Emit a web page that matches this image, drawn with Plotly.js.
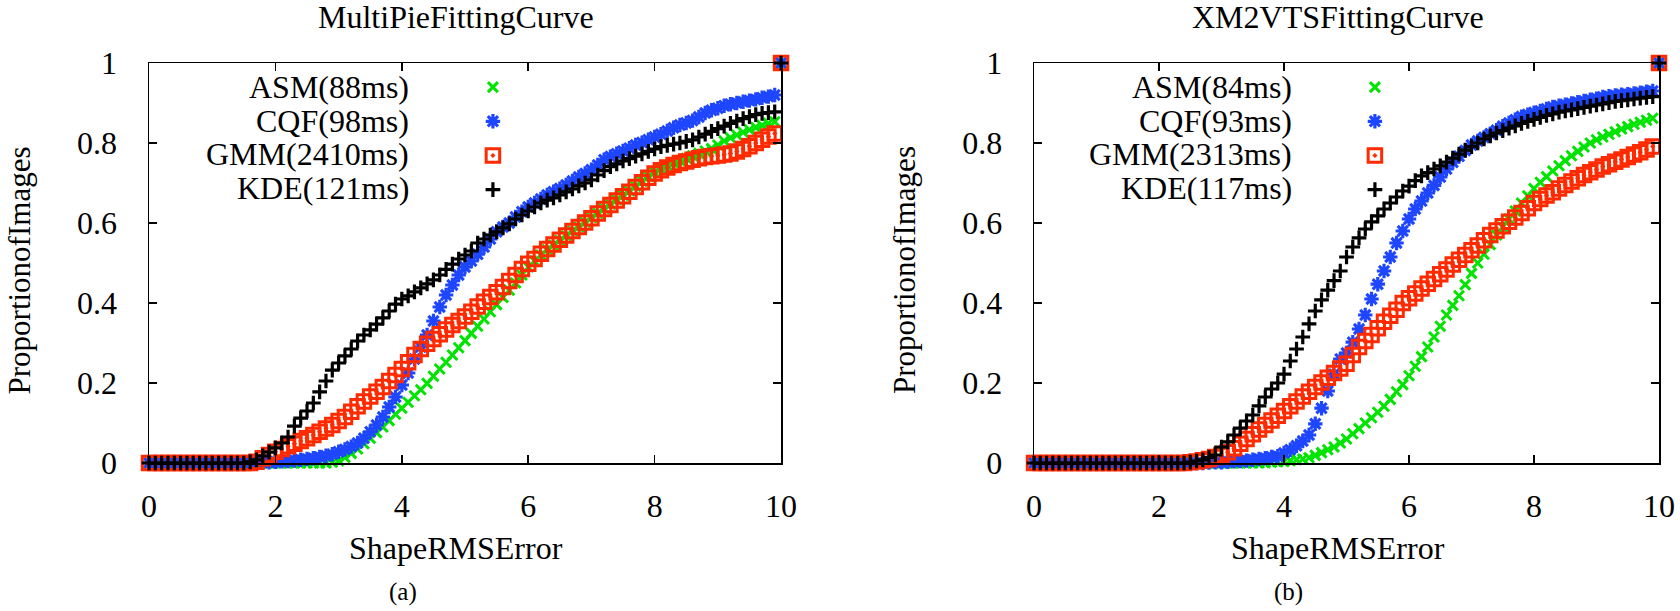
<!DOCTYPE html>
<html>
<head>
<meta charset="utf-8">
<script src="https://cdn.plot.ly/plotly-3.0.1.min.js"></script>
<style>
  html, body { margin: 0; padding: 0; background: #fff; }
  #fittingPlot { width: 1680px; height: 611px; }
</style>
</head>
<body>
<div id="fittingPlot"></div>
<script>
// shape RMS error, sampled every 0.1, last point at 10 holds everything
var errX = [];
for (i = 0; i < 100; i++) {
  errX.push(i / 10);
}
errX.push(10);

var methods = ['ASM', 'CQF', 'GMM', 'KDE'];
var mpNames = ['ASM(88ms)', 'CQF(98ms)', 'GMM(2410ms)', 'KDE(121ms)'];
var xmNames = ['ASM(84ms)', 'CQF(93ms)', 'GMM(2313ms)', 'KDE(117ms)'];
var xTicks = [0, 2, 4, 6, 8, 10];
var yTicks = [0, 0.2, 0.4, 0.6, 0.8, 1];

// MultiPie
var mpAsm = [
  0, 0, 0, 0, 0, 0, 0, 0, 0, 0,
  0, 0, 0, 0, 0, 0, 0, 0, 0, 0,
  0, 0, 0, 0, 0, 0, 0, 0, 0, 0.002,
  0.006, 0.014, 0.024, 0.035, 0.048, 0.062, 0.076, 0.09, 0.106, 0.122,
  0.137, 0.152, 0.168, 0.183, 0.199, 0.217, 0.235, 0.252, 0.27, 0.288,
  0.306, 0.324, 0.342, 0.36, 0.378, 0.396, 0.414, 0.432, 0.45, 0.47,
  0.49, 0.505, 0.52, 0.533, 0.545, 0.557, 0.568, 0.58, 0.59, 0.602,
  0.613, 0.624, 0.636, 0.647, 0.658, 0.669, 0.68, 0.692, 0.704, 0.716,
  0.727, 0.736, 0.743, 0.75, 0.756, 0.762, 0.768, 0.774, 0.78, 0.786,
  0.795, 0.805, 0.813, 0.82, 0.827, 0.833, 0.839, 0.844, 0.849, 0.853,
  1
];
var mpCqf = [
  0, 0, 0, 0, 0, 0, 0, 0, 0, 0,
  0, 0, 0, 0, 0, 0, 0, 0, 0.001, 0.002,
  0.003, 0.004, 0.005, 0.006, 0.008, 0.01, 0.012, 0.015, 0.018, 0.022,
  0.028, 0.034, 0.041, 0.05, 0.062, 0.078, 0.095, 0.115, 0.14, 0.165,
  0.195, 0.225, 0.26, 0.29, 0.32, 0.355, 0.39, 0.42, 0.445, 0.47,
  0.49, 0.505, 0.522, 0.54, 0.56, 0.578, 0.59, 0.6, 0.615, 0.628,
  0.64, 0.65, 0.66, 0.67, 0.678, 0.686, 0.695, 0.705, 0.715, 0.724,
  0.733, 0.745, 0.758, 0.766, 0.773, 0.78, 0.787, 0.795, 0.801, 0.808,
  0.815, 0.822, 0.83, 0.838, 0.845, 0.85, 0.856, 0.865, 0.875, 0.882,
  0.887, 0.893, 0.897, 0.9, 0.903, 0.906, 0.909, 0.913, 0.916, 0.92,
  1
];
var mpGmm = [
  0, 0, 0, 0, 0, 0, 0, 0, 0, 0,
  0, 0, 0, 0, 0, 0, 0, 0.003, 0.012, 0.02,
  0.028, 0.035, 0.042, 0.048, 0.055, 0.062, 0.07, 0.078, 0.086, 0.095,
  0.105, 0.115, 0.128, 0.142, 0.154, 0.166, 0.178, 0.19, 0.205, 0.22,
  0.235, 0.252, 0.27, 0.285, 0.298, 0.31, 0.322, 0.334, 0.345, 0.355,
  0.366, 0.378, 0.391, 0.403, 0.415, 0.427, 0.44, 0.455, 0.47, 0.485,
  0.498, 0.51, 0.523, 0.535, 0.546, 0.558, 0.569, 0.58, 0.59, 0.601,
  0.612, 0.624, 0.635, 0.645, 0.656, 0.667, 0.678, 0.69, 0.702, 0.713,
  0.724, 0.732, 0.739, 0.745, 0.75, 0.754, 0.758, 0.762, 0.765, 0.767,
  0.769, 0.771, 0.774, 0.779, 0.785, 0.792, 0.8, 0.808, 0.816, 0.824,
  1
];
var mpKde = [
  0, 0, 0, 0, 0, 0, 0, 0, 0, 0,
  0, 0, 0, 0, 0, 0, 0.003, 0.008, 0.018, 0.027,
  0.038, 0.05, 0.065, 0.092, 0.112, 0.13, 0.15, 0.178, 0.205, 0.232,
  0.25, 0.268, 0.285, 0.305, 0.32, 0.333, 0.347, 0.363, 0.38, 0.397,
  0.41, 0.418, 0.428, 0.438, 0.448, 0.458, 0.47, 0.484, 0.497, 0.51,
  0.52, 0.53, 0.55, 0.56, 0.57, 0.578, 0.588, 0.598, 0.61, 0.62,
  0.63, 0.64, 0.65, 0.657, 0.663, 0.67, 0.678, 0.685, 0.693, 0.7,
  0.708, 0.72, 0.731, 0.741, 0.748, 0.755, 0.761, 0.767, 0.773, 0.779,
  0.785, 0.791, 0.794, 0.797, 0.8, 0.804, 0.808, 0.815, 0.822, 0.829,
  0.836, 0.842, 0.849, 0.855, 0.861, 0.866, 0.871, 0.874, 0.876, 0.878,
  1
];

// XM2VTS
var xmAsm = [
  0, 0, 0, 0, 0, 0, 0, 0, 0, 0,
  0, 0, 0, 0, 0, 0, 0, 0, 0, 0,
  0, 0, 0, 0, 0, 0, 0, 0, 0, 0,
  0, 0, 0, 0, 0, 0, 0, 0.001, 0.002, 0.003,
  0.004, 0.006, 0.008, 0.01, 0.013, 0.019, 0.026, 0.033, 0.04, 0.05,
  0.06, 0.073, 0.086, 0.1, 0.113, 0.127, 0.142, 0.159, 0.178, 0.196,
  0.218, 0.242, 0.266, 0.29, 0.315, 0.342, 0.37, 0.394, 0.418, 0.446,
  0.474, 0.5, 0.522, 0.546, 0.57, 0.59, 0.61, 0.63, 0.65, 0.668,
  0.686, 0.702, 0.716, 0.73, 0.743, 0.756, 0.768, 0.779, 0.79, 0.8,
  0.808, 0.815, 0.822, 0.828, 0.835, 0.841, 0.847, 0.852, 0.857, 0.862,
  1
];
var xmCqf = [
  0, 0, 0, 0, 0, 0, 0, 0, 0, 0,
  0, 0, 0, 0, 0, 0, 0, 0, 0, 0,
  0, 0, 0, 0, 0, 0, 0, 0, 0.001, 0.002,
  0.002, 0.003, 0.004, 0.005, 0.006, 0.008, 0.01, 0.012, 0.015, 0.017,
  0.025, 0.033, 0.043, 0.055, 0.07, 0.098, 0.137, 0.18, 0.222, 0.26,
  0.275, 0.302, 0.335, 0.37, 0.41, 0.447, 0.48, 0.515, 0.55, 0.58,
  0.61, 0.635, 0.655, 0.675, 0.694, 0.715, 0.735, 0.752, 0.767, 0.781,
  0.795, 0.805, 0.814, 0.823, 0.832, 0.842, 0.85, 0.858, 0.866, 0.871,
  0.876, 0.88, 0.885, 0.89, 0.893, 0.896, 0.899, 0.902, 0.905, 0.908,
  0.911, 0.915, 0.917, 0.919, 0.921, 0.922, 0.924, 0.926, 0.928, 0.93,
  1
];
var xmGmm = [
  0, 0, 0, 0, 0, 0, 0, 0, 0, 0,
  0, 0, 0, 0, 0, 0, 0, 0, 0, 0,
  0, 0, 0, 0, 0, 0.002, 0.004, 0.007, 0.01, 0.015,
  0.02, 0.027, 0.037, 0.048, 0.06, 0.072, 0.084, 0.095, 0.106, 0.118,
  0.13, 0.142, 0.154, 0.166, 0.178, 0.19, 0.201, 0.213, 0.225, 0.236,
  0.248, 0.27, 0.29, 0.305, 0.32, 0.337, 0.353, 0.368, 0.383, 0.4,
  0.412, 0.424, 0.436, 0.448, 0.46, 0.472, 0.484, 0.496, 0.508, 0.52,
  0.532, 0.544, 0.557, 0.57, 0.581, 0.592, 0.603, 0.614, 0.625, 0.637,
  0.65, 0.66, 0.669, 0.677, 0.686, 0.695, 0.704, 0.712, 0.72, 0.727,
  0.734, 0.741, 0.747, 0.753, 0.759, 0.765, 0.771, 0.777, 0.784, 0.791,
  1
];
var xmKde = [
  0, 0, 0, 0, 0, 0, 0, 0, 0, 0,
  0, 0, 0, 0, 0, 0, 0, 0, 0, 0,
  0, 0, 0, 0, 0, 0.002, 0.005, 0.008, 0.014, 0.02,
  0.04, 0.053, 0.07, 0.087, 0.105, 0.12, 0.143, 0.165, 0.185, 0.2,
  0.222, 0.255, 0.285, 0.315, 0.348, 0.38, 0.408, 0.432, 0.456, 0.48,
  0.515, 0.54, 0.563, 0.585, 0.603, 0.618, 0.635, 0.65, 0.665, 0.68,
  0.692, 0.706, 0.718, 0.726, 0.735, 0.743, 0.752, 0.762, 0.772, 0.782,
  0.791, 0.8, 0.81, 0.818, 0.825, 0.831, 0.837, 0.843, 0.849, 0.854,
  0.859, 0.864, 0.869, 0.873, 0.877, 0.88, 0.883, 0.886, 0.889, 0.892,
  0.895, 0.898, 0.901, 0.904, 0.906, 0.908, 0.91, 0.912, 0.914, 0.916,
  1
];

var mpData = [mpAsm, mpCqf, mpGmm, mpKde];
var xmData = [xmAsm, xmCqf, xmGmm, xmKde];

// gnuplot-ish point styles, one per method
var markerStyle = {
  ASM: { symbol: 'x-thin-open', size: 10, color: '#00e400', width: 3 },
  CQF: { symbol: 'asterisk-open', size: 12, color: '#1f46ff', width: 3.2 },
  GMM: { symbol: 'square-open-dot', size: 13.5, color: '#ff2a00', width: 3 },
  KDE: { symbol: 'cross-thin-open', size: 10.5, color: '#000000', width: 3.2 }
};

var fontFamily = 'Liberation Serif';
var data = [];
for (i = 0; i < methods.length; i++) {
  var m = markerStyle[methods[i]];
  data.push({
    x: errX,
    y: mpData[i],
    name: '',
    hovertemplate: mpNames[i] + ': %{x}, %{y}<extra></extra>',
    mode: 'markers',
    type: 'scatter',
    cliponaxis: false,
    marker: { symbol: m.symbol, size: m.size, color: m.color, line: { color: m.color, width: m.width } },
    xaxis: 'x',
    yaxis: 'y',
    legend: 'legend'
  });
}
for (i = 0; i < methods.length; i++) {
  var m = markerStyle[methods[i]];
  data.push({
    x: errX,
    y: xmData[i],
    name: '',
    hovertemplate: xmNames[i] + ': %{x}, %{y}<extra></extra>',
    mode: 'markers',
    type: 'scatter',
    cliponaxis: false,
    marker: { symbol: m.symbol, size: m.size, color: m.color, line: { color: m.color, width: m.width } },
    xaxis: 'x2',
    yaxis: 'y2',
    legend: 'legend2'
  });
}

function xAxisCfg(domain, anchor) {
  return {
    domain: domain,
    anchor: anchor,
    range: [0, 10],
    tickvals: xTicks,
    ticks: 'inside',
    ticklen: 8,
    tickwidth: 1.5,
    tickcolor: '#000',
    showline: true,
    linecolor: '#000',
    linewidth: 1.5,
    mirror: 'ticks',
    showgrid: false,
    zeroline: false,
    ticklabelstandoff: 14,
    ticklabeloverflow: 'allow',
    tickfont: { family: fontFamily, size: 32, color: '#000' }
  };
}
function yAxisCfg(anchor) {
  return {
    domain: [0, 1],
    anchor: anchor,
    range: [0, 1],
    tickvals: yTicks,
    ticks: 'inside',
    ticklen: 8,
    tickwidth: 1.5,
    tickcolor: '#000',
    showline: true,
    linecolor: '#000',
    linewidth: 1.5,
    mirror: 'ticks',
    showgrid: false,
    zeroline: false,
    ticklabelstandoff: 24,
    tickfont: { family: fontFamily, size: 32, color: '#000' }
  };
}

var txt = { family: fontFamily, size: 32, color: '#000' };
var annotations = [
  { text: 'MultiPieFittingCurve', x: 0.2712, y: 1.115, font: txt },
  { text: 'XM2VTSFittingCurve', x: 0.7965, y: 1.115, font: txt },
  { text: 'ShapeRMSError', x: 0.2712, y: -0.2125, font: txt },
  { text: 'ShapeRMSError', x: 0.7965, y: -0.2125, font: txt },
  { text: 'ProportionofImages', x: 0.0116, y: 0.4825, textangle: -90, font: { family: fontFamily, size: 31, color: '#000' } },
  { text: 'ProportionofImages', x: 0.5381, y: 0.4825, textangle: -90, font: { family: fontFamily, size: 31, color: '#000' } },
  { text: '(a)', x: 0.2399, y: -0.3225, font: { family: fontFamily, size: 25, color: '#000' } },
  { text: '(b)', x: 0.7667, y: -0.3225, font: { family: fontFamily, size: 25, color: '#000' } }
];
// legend labels sit left of the legend symbols
var rowY = [0.94, 0.855, 0.7725, 0.6875];
for (i = 0; i < methods.length; i++) {
  annotations.push({ text: mpNames[i], x: 0.2446, y: rowY[i], xanchor: 'right', font: txt });
  annotations.push({ text: xmNames[i], x: 0.7705, y: rowY[i], xanchor: 'right', font: txt });
}
for (i = 0; i < annotations.length; i++) {
  annotations[i].xref = 'paper';
  annotations[i].yref = 'paper';
  annotations[i].showarrow = false;
  if (!annotations[i].xanchor) annotations[i].xanchor = 'center';
  annotations[i].yanchor = 'middle';
}

var legendCfg = {
  xanchor: 'left',
  y: 0.995,
  yanchor: 'top',
  bgcolor: 'rgba(0,0,0,0)',
  borderwidth: 0,
  itemwidth: 30,
  tracegroupgap: 0,
  font: { family: fontFamily, size: 24, color: '#000' }
};

var layout = {
  width: 1680,
  height: 611,
  margin: { l: 0, r: 0, t: 63, b: 148 },
  paper_bgcolor: '#fff',
  plot_bgcolor: '#fff',
  showlegend: true,
  xaxis: xAxisCfg([0.0887, 0.4649], 'y'),
  yaxis: yAxisCfg('x'),
  xaxis2: xAxisCfg([0.6155, 0.9875], 'y2'),
  yaxis2: yAxisCfg('x2'),
  legend: Object.assign({ x: 0.2815 }, legendCfg),
  legend2: Object.assign({ x: 0.8065 }, legendCfg),
  annotations: annotations,
  font: { family: fontFamily, color: '#000' }
};

Plotly.newPlot('fittingPlot', data, layout, { staticPlot: true });
</script>
</body>
</html>
